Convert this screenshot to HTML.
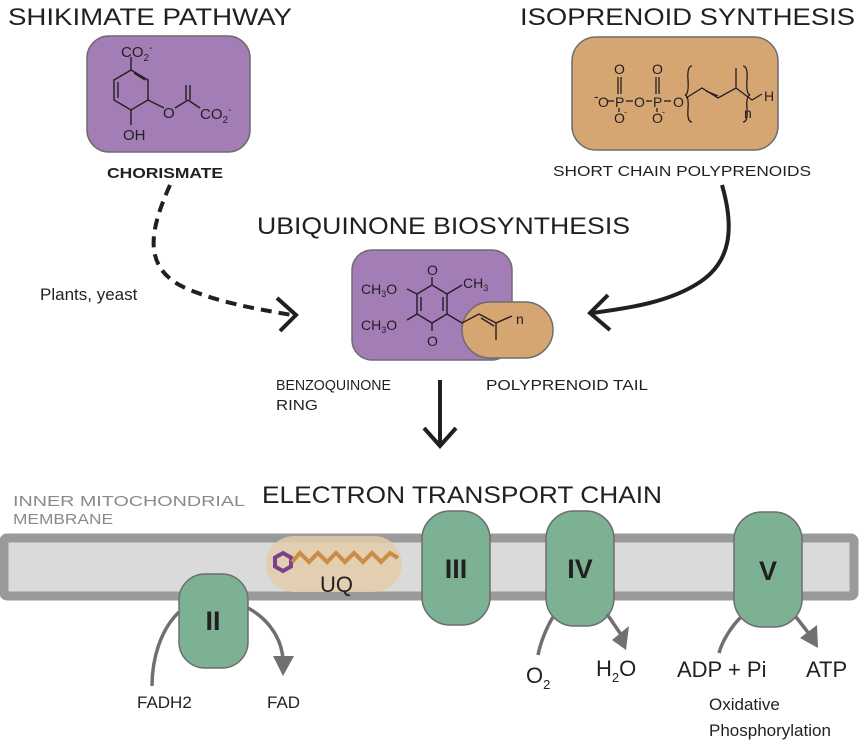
<!DOCTYPE html>
<html><head><meta charset="utf-8"><style>
html,body{margin:0;padding:0;background:#fff;}
svg{display:block;font-family:"Liberation Sans",sans-serif;}
</style></head><body>
<svg width="860" height="746" viewBox="0 0 860 746" xmlns="http://www.w3.org/2000/svg">
<!-- titles -->
<text x="8" y="25" font-size="24" fill="#231f20" textLength="284" lengthAdjust="spacingAndGlyphs">SHIKIMATE PATHWAY</text>
<text x="520" y="25" font-size="24" fill="#231f20" textLength="335" lengthAdjust="spacingAndGlyphs">ISOPRENOID SYNTHESIS</text>
<text x="257" y="234" font-size="24" fill="#231f20" textLength="373" lengthAdjust="spacingAndGlyphs">UBIQUINONE BIOSYNTHESIS</text>
<text x="262" y="503" font-size="24" fill="#231f20" textLength="400" lengthAdjust="spacingAndGlyphs">ELECTRON TRANSPORT CHAIN</text>

<!-- chorismate box -->
<rect x="87" y="36" width="163" height="116" rx="22" fill="#a37db5" stroke="#6d6d6d" stroke-width="1.5"/>
<g stroke="#231f20" stroke-width="1.4" fill="none">
<line x1="131" y1="57" x2="131" y2="70"/>
<polyline points="131,70 148,80 148,100 131,110 114,100 114,80 131,70"/>
<line x1="134" y1="73" x2="145" y2="80"/>
<line x1="118" y1="82" x2="118" y2="98"/>
<line x1="131" y1="110" x2="131" y2="125"/>
<line x1="148" y1="100" x2="164" y2="108"/>
<line x1="175" y1="108" x2="188" y2="100"/>
<line x1="188" y1="100" x2="200" y2="108"/>
<line x1="186" y1="100" x2="186" y2="85"/><line x1="190" y1="100" x2="190" y2="85"/>
</g>
<g font-size="15" fill="#231f20">
<text x="121" y="57">CO<tspan font-size="10" dy="4">2</tspan><tspan font-size="10" dy="-10">-</tspan></text>
<text x="163" y="118">O</text>
<text x="200" y="119">CO<tspan font-size="10" dy="4">2</tspan><tspan font-size="10" dy="-10">-</tspan></text>
<text x="123" y="140">OH</text>
</g>
<text x="107" y="178" font-size="15" font-weight="bold" fill="#231f20" textLength="116" lengthAdjust="spacingAndGlyphs">CHORISMATE</text>

<!-- isoprenoid box -->
<rect x="572" y="37" width="206" height="113" rx="24" fill="#d6a672" stroke="#6d6d6d" stroke-width="1.5"/>
<g font-size="14" fill="#231f20">
<text x="594" y="101">-</text><text x="598" y="107">O</text>
<text x="615" y="107">P</text>
<text x="614" y="74">O</text>
<text x="614" y="123">O</text><text x="624" y="115" font-size="9">-</text>
<text x="634" y="107">O</text>
<text x="653" y="107">P</text>
<text x="652" y="74">O</text>
<text x="652" y="123">O</text><text x="662" y="115" font-size="9">-</text>
<text x="673" y="107">O</text>
<text x="744" y="118">n</text>
<text x="764" y="101">H</text>
</g>
<g stroke="#231f20" stroke-width="1.3" fill="none">
<line x1="618" y1="77" x2="618" y2="94"/><line x1="621" y1="77" x2="621" y2="94"/>
<line x1="656" y1="77" x2="656" y2="94"/><line x1="659" y1="77" x2="659" y2="94"/>
<line x1="619" y1="108" x2="619" y2="112"/><line x1="657" y1="108" x2="657" y2="112"/>
<line x1="608" y1="101" x2="614" y2="101"/><line x1="626" y1="101" x2="633" y2="101"/>
<line x1="646" y1="101" x2="652" y2="101"/><line x1="664" y1="101" x2="671" y2="101"/>
<path d="M692,66 q-5,0 -4,14 q1,14 -3,15 q4,1 3,14 q-1,13 4,13"/>
<path d="M743,66 q5,0 4,14 q-1,14 3,15 q-4,1 -3,14 q1,13 -4,13"/>
<polyline points="686,98 702,88 718,98 736,88 752,100 762,94"/>
<line x1="706" y1="91" x2="718" y2="96"/>
<line x1="736" y1="88" x2="736" y2="68"/>
</g>
<text x="553" y="176" font-size="15" fill="#231f20" textLength="258" lengthAdjust="spacingAndGlyphs">SHORT CHAIN POLYPRENOIDS</text>

<!-- arrows -->
<path d="M170,185 C150,230 140,270 190,290 C220,302 250,308 292,315" stroke="#231f20" stroke-width="4" fill="none" stroke-dasharray="11,7"/>
<polyline points="277,298 296,315 280,331" stroke="#231f20" stroke-width="4" fill="none"/>
<path d="M722,185 C735,230 730,262 700,282 C670,302 630,308 592,313" stroke="#231f20" stroke-width="4" fill="none"/>
<polyline points="608,295 590,313 610,330" stroke="#231f20" stroke-width="4" fill="none"/>
<line x1="440" y1="380" x2="440" y2="445" stroke="#231f20" stroke-width="4"/>
<polyline points="424,428 440,446 456,428" stroke="#231f20" stroke-width="4" fill="none"/>
<text x="40" y="300" font-size="17" fill="#231f20">Plants, yeast</text>

<!-- ubiquinone -->
<rect x="352" y="250" width="160" height="110" rx="20" fill="#a37db5" stroke="#6d6d6d" stroke-width="1.5"/>
<rect x="462" y="302" width="91" height="56" rx="28" fill="#d6a672" stroke="#6d6d6d" stroke-width="1.5"/>
<g stroke="#231f20" stroke-width="1.4" fill="none">
<polyline points="432,285 447,294 447,314 432,323 417,314 417,294 432,285"/>
<line x1="421" y1="297" x2="421" y2="311"/><line x1="443" y1="297" x2="443" y2="311"/>
<line x1="432" y1="285" x2="432" y2="277"/><line x1="432" y1="323" x2="432" y2="331"/>
<line x1="447" y1="294" x2="462" y2="285"/>
<line x1="417" y1="294" x2="407" y2="289"/><line x1="417" y1="314" x2="407" y2="320"/>
<polyline points="447,314 462,323 479,314 496,323 512,316"/>
<line x1="481" y1="318" x2="494" y2="326"/>
<line x1="496" y1="323" x2="496" y2="340"/>
</g>
<g font-size="14" fill="#231f20">
<text x="427" y="275">O</text><text x="427" y="346">O</text>
<text x="361" y="294">CH<tspan font-size="9" dy="3">3</tspan><tspan dy="-3">O</tspan></text>
<text x="361" y="330">CH<tspan font-size="9" dy="3">3</tspan><tspan dy="-3">O</tspan></text>
<text x="463" y="288">CH<tspan font-size="9" dy="3">3</tspan></text>
<text x="516" y="324">n</text>
</g>
<text x="276" y="390" font-size="15" fill="#231f20" textLength="115" lengthAdjust="spacingAndGlyphs">BENZOQUINONE</text>
<text x="276" y="410" font-size="15" fill="#231f20" textLength="42" lengthAdjust="spacingAndGlyphs">RING</text>
<text x="486" y="390" font-size="15" fill="#231f20" textLength="162" lengthAdjust="spacingAndGlyphs">POLYPRENOID TAIL</text>

<!-- membrane -->
<text x="13" y="506" font-size="15" fill="#8a8a8a" textLength="232" lengthAdjust="spacingAndGlyphs">INNER MITOCHONDRIAL</text>
<text x="13" y="524" font-size="15" fill="#8a8a8a" textLength="100" lengthAdjust="spacingAndGlyphs">MEMBRANE</text>
<rect x="4" y="538" width="850" height="58" rx="3" fill="#dadada" stroke="#9a9a9a" stroke-width="9"/>
<rect x="266" y="536" width="136" height="56" rx="28" fill="#e3cba9" opacity="0.85"/>
<polygon points="283,553 291,557.5 291,566.5 283,571 275,566.5 275,557.5" fill="none" stroke="#7b3f8f" stroke-width="4"/>
<polyline points="292,562 300,553 309,562 318,553 327,562 336,553 345,562 354,553 363,562 372,553 381,562 390,553 398,558" fill="none" stroke="#c98d44" stroke-width="4"/>
<text x="320" y="592" font-size="22" fill="#231f20">UQ</text>

<!-- complexes -->
<g fill="#7cb193" stroke="#6d6d6d" stroke-width="1.5">
<rect x="179" y="574" width="69" height="94" rx="26"/>
<rect x="422" y="511" width="68" height="114" rx="28"/>
<rect x="546" y="511" width="68" height="115" rx="28"/>
<rect x="734" y="512" width="68" height="115" rx="28"/>
</g>
<g font-size="27" font-weight="bold" fill="#231f20" text-anchor="middle">
<text x="213" y="630">II</text>
<text x="456" y="578">III</text>
<text x="580" y="578">IV</text>
<text x="768" y="580">V</text>
</g>
<g stroke="#707070" stroke-width="3.5" fill="none">
<path d="M179,612 C160,630 152,660 152,686"/>
<path d="M248,608 C270,620 282,640 283,660"/>
<path d="M553,617 C545,630 540,645 538,655"/>
<path d="M607,614 L622,636"/>
<path d="M741,617 C730,628 722,642 719,653"/>
<path d="M796,617 L810,635"/>
</g>
<g fill="#707070">
<polygon points="273,656 294,656 283,676"/>
<polygon points="612,640 629,626 626,650"/>
<polygon points="800,638 817,625 818,648"/>
</g>
<g font-size="22" fill="#231f20">
<text x="526" y="683">O<tspan font-size="13" dy="6">2</tspan></text>
<text x="596" y="676">H<tspan font-size="13" dy="6">2</tspan><tspan dy="-6">O</tspan></text>
<text x="677" y="677">ADP + Pi</text>
<text x="806" y="677">ATP</text>
</g>
<text x="137" y="708" font-size="17" fill="#231f20">FADH2</text>
<text x="267" y="708" font-size="17" fill="#231f20">FAD</text>
<text x="709" y="710" font-size="17" fill="#231f20">Oxidative</text>
<text x="709" y="736" font-size="17" fill="#231f20">Phosphorylation</text>
</svg>
</body></html>
